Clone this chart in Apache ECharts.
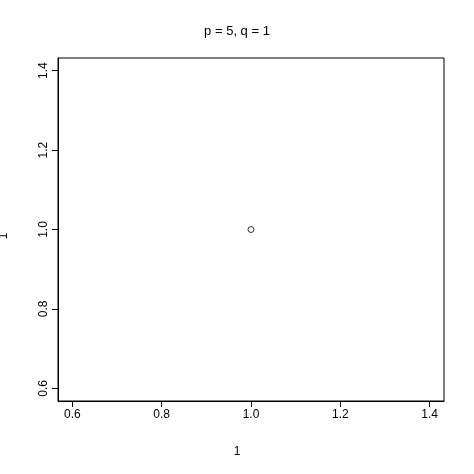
<!DOCTYPE html>
<html><head><meta charset="utf-8">
<script src="https://cdn.jsdelivr.net/npm/echarts@6/dist/echarts.min.js"></script>
<style>html,body{margin:0;padding:0;background:#fff}#c{width:474px;height:474px}</style>
</head><body><div id="c"></div>
<script>
const xValues = [1];
const yValues = [1];
const tickValues = [0.6, 0.8, 1.0, 1.2, 1.4];
const titleText = 'p = 5, q = 1';
const xLabel = '1';
const yLabel = '1';
const chart = echarts.init(document.getElementById('c'));
const font = 'Liberation Sans, Arial, sans-serif';
function axis(rot){
  return {
    type:'value', min:0.568, max:1.432,
    axisLine:{show:true, onZero:false, lineStyle:{color:'#000'}},
    axisTick:{show:true, length:6, customValues:tickValues, lineStyle:{color:'#000'}},
    axisLabel:{customValues:tickValues, color:'#000', fontSize:12, fontFamily:font, rotate:rot,
      formatter:v=>v.toFixed(1), margin:8},
    splitLine:{show:false}
  };
}
const xa = axis(0), ya = axis(90);
chart.setOption({
  animation:false,
  title:{text:titleText, left:'center', top:20, textStyle:{fontSize:13, fontWeight:'normal', color:'#000', fontFamily:font}},
  grid:{left:58, right:30, top:58, bottom:73, show:true, borderColor:'#000', borderWidth:1},
  xAxis:xa, yAxis:ya,
  graphic:[
    {type:'text', left:'center', top:446, x:20, style:{text:xLabel, fontSize:12, fill:'#000', fontFamily:font}},
    {type:'text', x:4, y:236, rotation:Math.PI/2, style:{text:yLabel, fontSize:12, fill:'#000', fontFamily:font, align:'center', verticalAlign:'middle'}}
  ],
  series:[{type:'scatter', data:xValues.map((x,i)=>[x,yValues[i]]), symbol:'circle', symbolSize:6,
    itemStyle:{color:'rgba(0,0,0,0)', borderColor:'#000', borderWidth:1}}]
});
</script></body></html>
